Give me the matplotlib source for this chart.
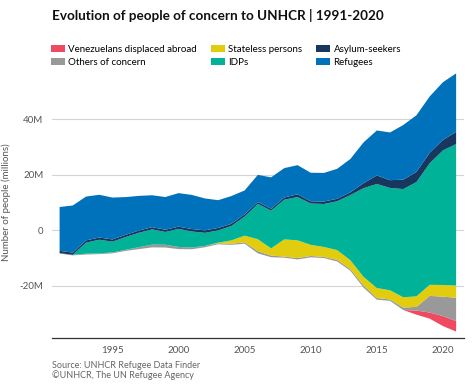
import numpy as np
import matplotlib.pyplot as plt
from matplotlib.ticker import FuncFormatter

plt.rcParams['font.family'] = ['Lato', 'DejaVu Sans']

years = list(range(1991, 2022))

# millions
venezuelans = [0, 0, 0, 0, 0, 0, 0, 0, 0, 0, 0, 0, 0, 0, 0, 0, 0, 0, 0, 0,
               0, 0, 0, 0, 0, 0, 0.0, 1.5, 2.2, 3.6, 3.8]
others = [0.2, 0.2, 0.3, 0.3, 0.3, 0.4, 0.7, 1.0, 1.0, 0.8, 0.6, 0.5, 0.4, 0.4, 0.5, 0.8,
          0.6, 0.4, 0.5, 0.5, 0.4, 0.6, 0.6, 0.8, 0.6, 0.5, 0.9, 1.3, 6.0, 7.0, 8.4]
stateless = [0, 0, 0, 0, 0, 0, 0, 0, 0, 0, 0, 0, 0.2, 1.2, 2.4, 4.3,
             2.6, 6.2, 6.4, 4.0, 3.6, 3.5, 3.2, 3.1, 3.6, 3.3, 3.7, 3.8, 4.0, 4.2, 4.4]
idps = [0, 0, 4.0, 4.9, 3.9, 4.6, 5.2, 5.5, 4.6, 6.5, 5.8, 4.7, 4.4, 5.2, 6.9, 12.7,
        13.6, 14.3, 15.6, 14.9, 15.5, 17.6, 23.5, 32.0, 37.5, 36.9, 39.0, 41.2, 43.8, 48.5, 51.0]
asylum = [0.8, 0.8, 0.8, 0.8, 0.8, 0.8, 0.8, 0.8, 0.8, 0.8, 0.9, 0.9, 0.9, 0.8, 0.8, 0.7,
          0.7, 0.8, 1.0, 0.8, 0.9, 0.9, 1.0, 1.8, 3.1, 2.8, 3.4, 3.7, 3.8, 3.8, 4.4]
refugees = [15.8, 17.0, 15.8, 15.4, 15.1, 13.6, 12.5, 11.5, 11.8, 12.1, 12.3, 11.5, 10.0, 10.0,
            8.6, 9.8, 11.3, 10.6, 10.5, 10.3, 10.3, 10.8, 12.0, 14.7, 16.2, 17.2, 19.7, 20.4,
            20.3, 20.8, 21.1]

labels = ['Venezuelans displaced abroad', 'Others of concern', 'Stateless persons',
          'IDPs', 'Asylum-seekers', 'Refugees']
colors = ['#EF4A60', '#999999', '#E1CC0D', '#00B398', '#18375F', '#0072BC']

fig = plt.figure(figsize=(4.74, 3.89), dpi=100)
ax = fig.add_axes([0.109, 0.131, 0.870, 0.697])

ax.stackplot(years, venezuelans, others, stateless, idps, asylum, refugees,
             labels=labels, colors=colors, baseline='weighted_wiggle', linewidth=0)

ax.margins(x=0.02, y=0.025)
ax.set_yticks([-20, 0, 20, 40])
ax.yaxis.set_major_formatter(FuncFormatter(lambda v, p: '0' if v == 0 else f'{v:.0f}M'))
ax.set_xticks([1995, 2000, 2005, 2010, 2015, 2020])
ax.grid(axis='y', color='#d4d4d4', linewidth=0.8)
ax.set_axisbelow(True)
ax.tick_params(length=0, labelsize=7, colors='#555555', pad=6)
for s in ['top', 'right', 'left']:
    ax.spines[s].set_visible(False)
ax.spines['bottom'].set_color('#333333')
ax.spines['bottom'].set_linewidth(0.9)
ax.set_ylabel('Number of people (millions)', fontsize=7, color='#555555', labelpad=6)

fig.text(52/474, 1 - 16/389, 'Evolution of people of concern to UNHCR | 1991-2020',
         fontsize=9.7, fontweight='bold', color='#111111', va='center', ha='left')

ax.legend(loc='upper left', bbox_to_anchor=(47/474, 1 - 41/389), bbox_transform=fig.transFigure,
          ncol=3, frameon=False, fontsize=7, handlelength=1.45, handleheight=0.7,
          handletextpad=0.35, columnspacing=1.4, labelspacing=0.45, borderaxespad=0)

fig.text(52/474, 1 - 365/389, 'Source: UNHCR Refugee Data Finder', fontsize=6.5,
         color='#666666', va='center')
fig.text(52/474, 1 - 375/389, '\u00a9UNHCR, The UN Refugee Agency', fontsize=6.5,
         color='#666666', va='center')

fig.savefig('out.png', dpi=100)
